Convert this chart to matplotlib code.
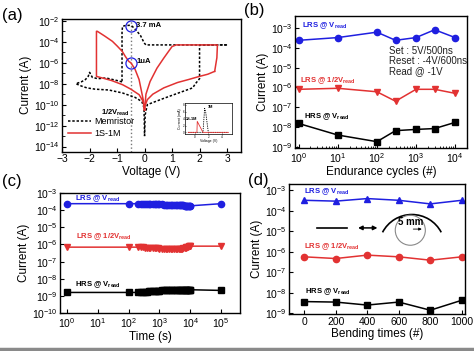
import numpy as np
import matplotlib
matplotlib.use('agg')
import matplotlib.pyplot as plt
from matplotlib.patches import Arc, Ellipse
from matplotlib.lines import Line2D
from matplotlib.ticker import FixedLocator, NullFormatter

plt.rcParams['font.family'] = ['Liberation Sans', 'DejaVu Sans']
plt.rcParams['mathtext.fontset'] = 'custom'
plt.rcParams['mathtext.rm'] = 'Liberation Sans'
plt.rcParams['mathtext.it'] = 'Liberation Sans:italic'
plt.rcParams['mathtext.bf'] = 'Liberation Sans:bold'

BLUE = '#1f1fe0'
RED = '#e23232'

# ---- (a) I-V sweeps ----
# 1S-1M, positive set branch
v_1s_set = [0, 0.05, 0.2, 0.45, 0.7, 0.85, 1.0, 1.15, 2.0, 2.65, 2.63, 2.55]
i_1s_set = [3e-11, 1e-9, 1.6e-8, 3e-7, 2.8e-6, 1e-5, 3.5e-5, 5e-5, 5e-5, 5e-5, 3e-6, 1.5e-7]
# 1S-1M, positive return
v_1s_ret = [2.55, 2.3, 2.0, 1.6, 1.2, 0.7, 0.3, 0.1, 0.02, 0]
i_1s_ret = [1.5e-7, 8e-8, 5e-8, 2.5e-8, 1.3e-8, 4e-9, 1e-9, 3e-10, 8e-11, 3e-11]
# 1S-1M, negative loop
v_1s_neg = [0, -0.05, -0.2, -0.35, -0.5, -0.57, -0.7, -0.81, -1.0, -1.17, -1.45, -1.72,
            -1.75, -1.75, -1.2, -0.8, -0.5, -0.2, -0.05, 0]
i_1s_neg = [3e-11, 3e-10, 2.5e-8, 2.5e-7, 1e-6, 1.3e-6, 4e-6, 1.2e-5, 4e-5, 1.1e-4, 3.5e-4, 1e-3,
            1e-3, 5e-8, 2e-8, 8e-9, 3e-9, 9e-10, 2e-10, 3e-11]
# memristor, positive set
v_m_set = [0, 0.02, 0.1, 0.7, 1.3, 1.75, 1.85, 2.0, 2.0, 3.0]
i_m_set = [1e-13, 1e-11, 1e-10, 4e-10, 1.5e-9, 4e-9, 1e-8, 3e-8, 5e-5, 5e-5]
# memristor, return + negative peak
v_m_ret = [3.0, 0.05, 0.0, -0.05, -0.15, -0.3, -0.45, -0.55, -0.7, -0.8, -0.82, -0.82]
i_m_ret = [5e-5, 5e-5, 7e-5, 1.2e-4, 4e-4, 1.2e-3, 3e-3, 3.7e-3, 3.5e-3, 3e-3, 1e-3, 1.5e-8]
# memristor, negative reset
v_m_neg = [-0.82, -1.0, -1.4, -1.7, -1.9, -2.0, -2.05, -2.15, -2.3, -2.5, -2.3, -2.1, -1.8,
           -1.3, -0.8, -0.35, -0.1, -0.02, 0]
i_m_neg = [1.5e-8, 2e-8, 3.5e-8, 3e-8, 4e-8, 1.2e-7, 5e-8, 2.5e-8, 1.5e-8, 1e-8, 6e-9, 4e-9, 3e-9,
           2.5e-9, 1.3e-9, 5e-10, 2e-10, 5e-11, 1e-13]
# inset (linear current, mA)
ins_v_1m = [-1, 1.2, 1.45, 1.6, 2.0, 5]
ins_i_1m = [0, 0, 7, 6, 0, 0]
ins_v_1s = [-1, 0.3, 0.35, 1.2, 5]
ins_i_1s = [0, 0, 3.2, 0, 0]

# ---- (b) endurance ----
cycles = [1, 10, 100, 300, 1000, 3000, 10000]
end_lrs = [2.4e-4, 3.3e-4, 6.2e-4, 2.4e-4, 3.3e-4, 8.2e-4, 3.3e-4]
end_half = [8e-7, 9e-7, 6e-7, 2e-7, 8e-7, 8e-7, 5e-7]
end_hrs = [1.5e-8, 3.9e-9, 1.8e-9, 6.5e-9, 7.5e-9, 8.3e-9, 1.7e-8]

# ---- (c) retention ----
t_ret = [1, 100, 200, 250, 300, 350, 400, 450, 500, 600,
         700, 800, 900, 1000, 1200, 1400, 1600, 1800, 2000, 2300,
         2600, 3000, 3400, 3800, 4200, 4600, 5000, 5500, 6000, 6500,
         7000, 7500, 8000, 8500, 9000, 9500, 10000, 100000]
ret_lrs = [2.4e-4, 2.4e-4, 2.4e-4, 2.35e-4, 2.35e-4, 2.3e-4, 2.3e-4, 2.3e-4, 2.25e-4, 2.25e-4,
           2.2e-4, 2.2e-4, 2.2e-4, 2.15e-4, 2.15e-4, 2.1e-4, 2.1e-4, 2.1e-4, 2.05e-4, 2.05e-4,
           2.0e-4, 2.0e-4, 2.0e-4, 1.95e-4, 1.95e-4, 1.95e-4, 1.9e-4, 1.9e-4, 1.9e-4, 1.85e-4,
           1.85e-4, 1.85e-4, 1.8e-4, 1.8e-4, 1.8e-4, 1.8e-4, 1.8e-4, 2.4e-4]
ret_half = [7e-7, 7e-7, 7e-7, 6.8e-7, 6.7e-7, 6.6e-7, 6.5e-7, 6.4e-7, 6.3e-7, 6.2e-7,
            6.1e-7, 6e-7, 5.9e-7, 5.8e-7, 5.7e-7, 5.6e-7, 5.5e-7, 5.5e-7, 5.4e-7, 5.4e-7,
            5.3e-7, 5.3e-7, 5.2e-7, 5.2e-7, 5.2e-7, 5.3e-7, 5.4e-7, 5.6e-7, 5.9e-7, 6.2e-7,
            6.5e-7, 6.8e-7, 7.1e-7, 7.4e-7, 7.7e-7, 7.9e-7, 8e-7, 8e-7]
ret_hrs = [1.6e-9, 1.6e-9, 1.6e-9, 1.65e-9, 1.7e-9, 1.75e-9, 1.8e-9, 1.85e-9, 1.9e-9, 1.95e-9,
           2e-9, 2e-9, 2.05e-9, 2.05e-9, 2.1e-9, 2.1e-9, 2.1e-9, 2.15e-9, 2.15e-9, 2.15e-9,
           2.2e-9, 2.2e-9, 2.2e-9, 2.2e-9, 2.25e-9, 2.25e-9, 2.25e-9, 2.25e-9, 2.3e-9, 2.3e-9,
           2.3e-9, 2.3e-9, 2.3e-9, 2.3e-9, 2.3e-9, 2.3e-9, 2.3e-9, 2.1e-9]

# ---- (d) bending ----
bends = [0, 200, 400, 600, 800, 1000]
bend_lrs = [3.3e-4, 3e-4, 4e-4, 3.3e-4, 2.2e-4, 3.3e-4]
bend_half = [5.7e-7, 4.7e-7, 6.9e-7, 5.7e-7, 3.9e-7, 5.7e-7]
bend_hrs = [3.7e-9, 3.5e-9, 2.5e-9, 3.5e-9, 1.4e-9, 4.3e-9]

TICK = 7.5
LAB = 8.5
SMALL = 5.5


def style(ax):
    ax.tick_params(which='both', direction='in', labelsize=TICK, pad=2)
    ax.tick_params(which='major', length=3, width=0.8)
    ax.tick_params(which='minor', length=1.8, width=0.6)
    for s in ax.spines.values():
        s.set_linewidth(1.0)


fig = plt.figure(figsize=(4.74, 3.51), dpi=100)

# (a)
ax = fig.add_axes([0.131, 0.568, 0.377, 0.378])
ax.set_yscale('log')
ax.axvline(-0.5, color='#777777', ls=':', lw=1.0)
lab = 'Memristor'
for v, i in [(v_m_set, i_m_set), (v_m_ret, i_m_ret), (v_m_neg, i_m_neg)]:
    ax.plot(v, i, color='black', ls=(0, (1.6, 1.2)), lw=1.1, label=lab)
    lab = None
lab = '1S-1M'
for v, i in [(v_1s_set, i_1s_set), (v_1s_ret, i_1s_ret), (v_1s_neg, i_1s_neg)]:
    ax.plot(v, i, color=RED, lw=1.1, label=lab)
    lab = None
ax.plot([-0.5, -0.5], [3e-3, 1e-6], ls='none', marker='o', ms=8, mfc='none', mec=BLUE, mew=0.9)
ax.text(-0.3, 3.2e-3, '3.7 mA', fontsize=SMALL, fontweight='bold', va='center')
ax.text(-0.3, 1.2e-6, '1uA', fontsize=SMALL, fontweight='bold', va='center')
ax.text(-0.55, 1.8e-11, r'1/2V$_{\mathbf{read}}$', fontsize=SMALL, fontweight='bold', ha='right', va='center')
ax.set_xlim(-3, 3.5)
ax.set_ylim(3.3e-15, 1.5e-2)
ax.set_xticks([-3, -2, -1, 0, 1, 2, 3])
ax.yaxis.set_major_locator(FixedLocator([1e-14, 1e-12, 1e-10, 1e-8, 1e-6, 1e-4, 1e-2]))
ax.yaxis.set_minor_locator(FixedLocator([1e-13, 1e-11, 1e-9, 1e-7, 1e-5, 1e-3]))
ax.yaxis.set_minor_formatter(NullFormatter())
ax.set_xlabel('Voltage (V)', fontsize=LAB, labelpad=1)
ax.set_ylabel('Current (A)', fontsize=LAB, labelpad=1)
style(ax)
ax.legend(loc='upper left', bbox_to_anchor=(0.0, 0.3), frameon=False, fontsize=6.5,
          handlelength=2.6, handletextpad=0.4, labelspacing=0.3, borderaxespad=0.2)

ins = fig.add_axes([0.390, 0.618, 0.099, 0.088])
ins.plot(ins_v_1m, ins_i_1m, color='black', ls=(0, (1.5, 1.2)), lw=0.6)
ins.plot(ins_v_1s, ins_i_1s, color=RED, lw=0.6)
ins.set_xlim(-1.5, 5.5)
ins.set_ylim(-0.5, 8.5)
ins.text(1.9, 7, '1M', fontsize=2.8, fontweight='bold')
ins.text(-1.3, 3.6, '1S-1M', fontsize=2.8, fontweight='bold')
ins.set_xlabel('Voltage (V)', fontsize=2.5, labelpad=0)
ins.set_ylabel('Current (mA)', fontsize=2.5, labelpad=0)
ins.tick_params(direction='in', labelsize=2.2, length=1, width=0.4, pad=0.5)
for s in ins.spines.values():
    s.set_linewidth(0.5)

# (b)
ax = fig.add_axes([0.623, 0.578, 0.362, 0.376])
ax.plot(cycles, end_lrs, color=BLUE, marker='o', ms=4.5, lw=1.1)
ax.plot(cycles, end_half, color=RED, marker='v', ms=5, lw=1.1)
ax.plot(cycles, end_hrs, color='black', marker='s', ms=4, lw=1.1)
ax.set_xscale('log')
ax.set_yscale('log')
ax.set_xlim(0.82, 2e4)
ax.set_ylim(8.5e-10, 4e-3)
ax.set_xticks([1, 10, 100, 1000, 10000])
ax.set_yticks([1e-9, 1e-8, 1e-7, 1e-6, 1e-5, 1e-4, 1e-3])
ax.yaxis.set_minor_formatter(NullFormatter())
ax.text(0.04, 0.93, r'LRS @ V$_{\mathbf{read}}$', color=BLUE, fontsize=SMALL, fontweight='bold',
        transform=ax.transAxes, va='center')
ax.text(0.03, 0.515, r'LRS @ 1/2V$_{\mathbf{read}}$', color=RED, fontsize=SMALL, fontweight='bold',
        transform=ax.transAxes, va='center')
ax.text(0.05, 0.237, r'HRS @ V$_{\mathbf{read}}$', color='black', fontsize=SMALL, fontweight='bold',
        transform=ax.transAxes, va='center')
ax.text(0.545, 0.66, 'Set : 5V/500ns\nReset : -4V/600ns\nRead @ -1V', fontsize=7,
        transform=ax.transAxes, va='center', linespacing=1.05, color='#222222')
ax.set_xlabel('Endurance cycles (#)', fontsize=LAB, labelpad=1)
ax.set_ylabel('Current (A)', fontsize=LAB, labelpad=1)
style(ax)

# (c)
ax = fig.add_axes([0.127, 0.108, 0.380, 0.342])
ax.plot(t_ret, ret_lrs, color=BLUE, marker='o', ms=4.5, lw=1.1)
ax.plot(t_ret, ret_half, color=RED, marker='v', ms=5, lw=1.1)
ax.plot(t_ret, ret_hrs, color='black', marker='s', ms=4, lw=1.1)
ax.set_xscale('log')
ax.set_yscale('log')
ax.set_xlim(0.6, 4.2e5)
ax.set_ylim(1e-10, 1e-3)
ax.set_xticks([1, 10, 100, 1e3, 1e4, 1e5])
ax.set_yticks([1e-10, 1e-9, 1e-8, 1e-7, 1e-6, 1e-5, 1e-4, 1e-3])
ax.yaxis.set_minor_formatter(NullFormatter())
ax.text(0.083, 0.95, r'LRS @ V$_{\mathbf{read}}$', color=BLUE, fontsize=SMALL, fontweight='bold',
        transform=ax.transAxes, va='center')
ax.text(0.089, 0.636, r'LRS @ 1/2V$_{\mathbf{read}}$', color=RED, fontsize=SMALL, fontweight='bold',
        transform=ax.transAxes, va='center')
ax.text(0.083, 0.233, r'HRS @ V$_{\mathbf{read}}$', color='black', fontsize=SMALL, fontweight='bold',
        transform=ax.transAxes, va='center')
ax.set_xlabel('Time (s)', fontsize=LAB, labelpad=1)
ax.set_ylabel('Current (A)', fontsize=LAB, labelpad=1)
style(ax)

# (d)
ax = fig.add_axes([0.610, 0.105, 0.371, 0.370])
ax.plot(bends, bend_lrs, color=BLUE, marker='^', ms=5, lw=1.1)
ax.plot(bends, bend_half, color=RED, marker='o', ms=4.5, lw=1.1)
ax.plot(bends, bend_hrs, color='black', marker='s', ms=4, lw=1.1)
ax.set_yscale('log')
ax.set_xlim(-95, 1020)
ax.set_ylim(9e-10, 2e-3)
ax.set_xticks([0, 200, 400, 600, 800, 1000])
ax.set_yticks([1e-9, 1e-8, 1e-7, 1e-6, 1e-5, 1e-4, 1e-3])
ax.yaxis.set_minor_formatter(NullFormatter())
ax.text(0.082, 0.946, r'LRS @ V$_{\mathbf{read}}$', color=BLUE, fontsize=SMALL, fontweight='bold',
        transform=ax.transAxes, va='center')
ax.text(0.082, 0.518, r'LRS @ 1/2V$_{\mathbf{read}}$', color=RED, fontsize=SMALL, fontweight='bold',
        transform=ax.transAxes, va='center')
ax.text(0.088, 0.172, r'HRS @ V$_{\mathbf{read}}$', color='black', fontsize=SMALL, fontweight='bold',
        transform=ax.transAxes, va='center')
# bending sketch
ax.plot([0.157, 0.328], [0.664, 0.664], color='black', lw=1.2, transform=ax.transAxes)
ax.annotate('', xy=(0.376, 0.664), xytext=(0.518, 0.664), xycoords='axes fraction',
            arrowprops=dict(arrowstyle='<|-|>', color='black', lw=1.1, mutation_scale=6))
ax.add_patch(Arc((0.698, 0.513), 0.376, 0.508, theta1=35, theta2=145, color='black', lw=1.2,
                 transform=ax.transAxes))
ax.add_patch(Ellipse((0.689, 0.646), 0.171, 0.231, fill=False, ec='#888888', lw=0.8,
                     transform=ax.transAxes))
ax.annotate('', xy=(0.77, 0.655), xytext=(0.69, 0.655), xycoords='axes fraction',
            arrowprops=dict(arrowstyle='-|>', color='black', lw=0.6, mutation_scale=4))
ax.text(0.69, 0.71, '5 mm', fontsize=7, fontweight='bold', ha='center', va='center',
        transform=ax.transAxes)
ax.set_xlabel('Bending times (#)', fontsize=LAB, labelpad=1)
ax.set_ylabel('Current (A)', fontsize=LAB, labelpad=1)
style(ax)

fig.text(0.025, 0.957, '(a)', fontsize=12, ha='center', va='center')
fig.text(0.536, 0.969, '(b)', fontsize=12, ha='center', va='center')
fig.text(0.024, 0.484, '(c)', fontsize=12, ha='center', va='center')
fig.text(0.544, 0.487, '(d)', fontsize=12, ha='center', va='center')

fig.add_artist(Line2D([0, 1], [0.006, 0.006], color='#8a8a8a', lw=2.5, transform=fig.transFigure))

fig.savefig('out.png', dpi=100)
